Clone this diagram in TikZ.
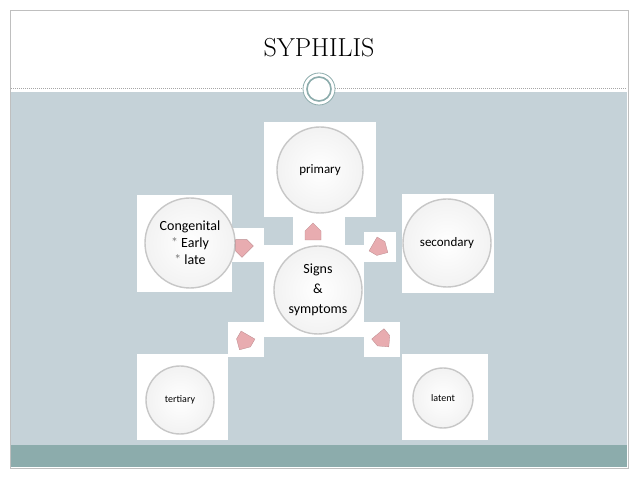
\documentclass[tikz,border=0pt]{standalone}
\usepackage{fontspec}
\newfontfamily\gillfont{Carlito}
\usetikzlibrary{positioning}
\definecolor{slidebg}{RGB}{197,210,216}
\definecolor{stripe}{RGB}{140,172,172}
\definecolor{pinkarrow}{RGB}{232,172,176}
\tikzset{
  tile/.style={fill=white, draw=none},
  bubble/.style={circle, draw=black!22, line width=1.4pt, inner color=white, outer color=black!5, align=center, font=\gillfont\fontsize{13}{15}\selectfont},
  house/.pic={\fill[pinkarrow, draw=pinkarrow!80!black, line width=0.3pt] (-8,-8) -- (8,-8) -- (8,1) -- (0,9) -- (-8,1) -- cycle;}
}
\begin{document}
\begin{tikzpicture}[x=1pt,y=-1pt]
\useasboundingbox (0,0) rectangle (638,478);
\fill[white] (0,0) rectangle (638,478);
\draw[black!25] (10,10) rectangle (628,468);
\fill[slidebg] (11,92) rectangle (627,445);
\fill[stripe] (11,445) rectangle (627,467);
\draw[black!35, dash pattern=on 1pt off 1pt] (11,88) -- (627,88);
\node (ttl) at (319,48) {\fontsize{26}{30}\selectfont SYPHILIS};
\node[circle, draw=stripe, fill=white, line width=0.8pt, minimum size=32pt] (orn) at (319,89) {};
\node[circle, draw=stripe, line width=1.6pt, minimum size=24pt] at (orn) {};
% tiles
\fill[tile] (264,122) rectangle (376,217);
\fill[tile] (293,217) rectangle (345,245);
\fill[tile] (137,195) rectangle (232,292);
\fill[tile] (232,228) rectangle (264,262);
\fill[tile] (264,245) rectangle (364,337);
\fill[tile] (402,194) rectangle (494,293);
\fill[tile] (364,232) rectangle (396,262);
\fill[tile] (137,354) rectangle (228,440);
\fill[tile] (228,322) rectangle (264,357);
\fill[tile] (402,354) rectangle (488,440);
\fill[tile] (364,322) rectangle (400,357);
% circles
\node[bubble, minimum size=86pt] (prim) at (320,170) {primary};
\node[bubble, minimum size=90pt, font=\gillfont\fontsize{14}{17}\selectfont] (cong) at (190,243) {Congenital\\ {\color{black!50}*} Early\\ {\color{black!50}*} late};
\node[bubble, minimum size=88pt, font=\gillfont\fontsize{14}{20}\selectfont] (sign) at (318,290) {Signs\\ \&\\ symptoms};
\node[bubble, minimum size=88pt] (sec) at (447,243) {secondary};
\node[bubble, minimum size=68pt, font=\gillfont\fontsize{10}{12}\selectfont] (tert) at (180,400) {tertiary};
\node[bubble, minimum size=60pt, font=\gillfont\fontsize{10}{12}\selectfont] (lat) at (443,398) {latent};
% arrows
\pic[rotate=180] at (313,232) {house};
\pic[rotate=-135] at (242,246) {house};
\pic[rotate=60] at (380,248) {house};
\pic[rotate=-30] at (244,342) {house};
\pic[rotate=40] at (383,340) {house};
\end{tikzpicture}
\end{document}
